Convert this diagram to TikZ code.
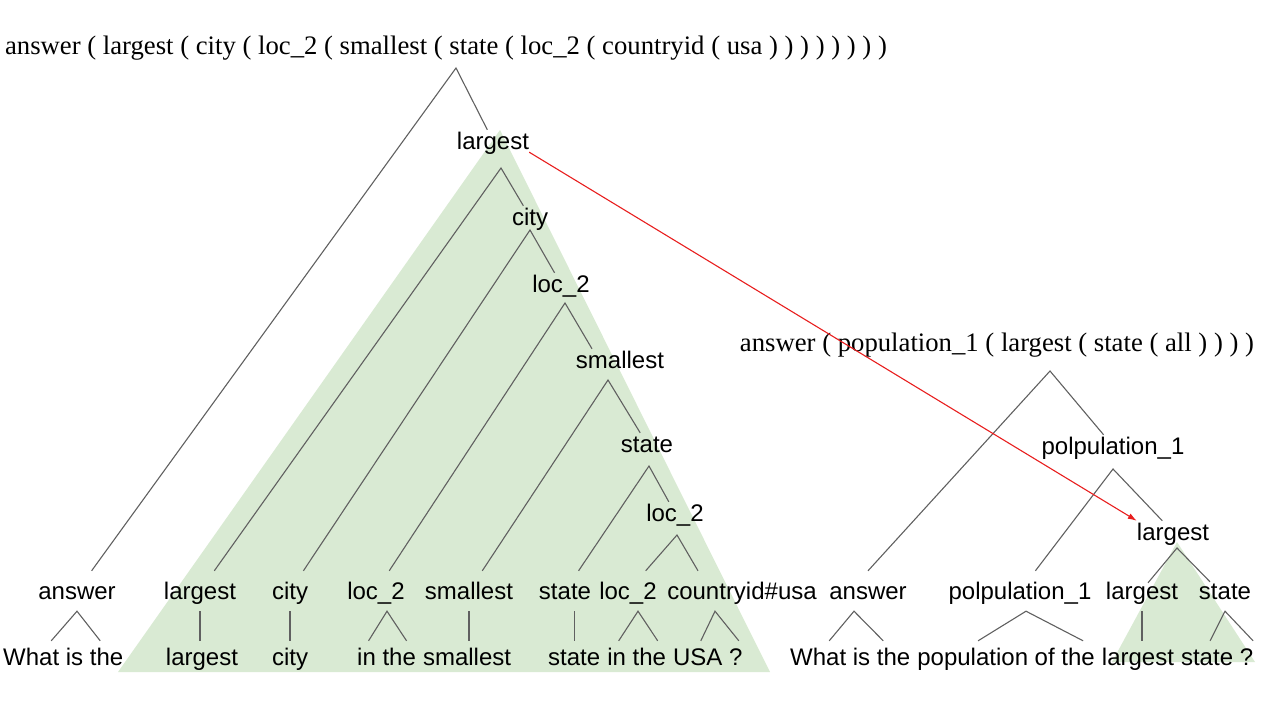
\documentclass[tikz,border=0pt]{standalone}
\usepackage{fontspec}
\setmainfont{Liberation Sans}
\newfontfamily\lformfont{Liberation Serif}
\usetikzlibrary{positioning}
\usetikzlibrary{arrows.meta}
\definecolor{spangreen}{RGB}{217,234,211}
\definecolor{branchgray}{RGB}{96,96,96}
\definecolor{linkred}{RGB}{232,30,30}

\begin{document}
\begin{tikzpicture}[x=1pt, y=-1pt,
    word/.style={font=\fontsize{24}{28}\selectfont, inner sep=0pt, text height=19pt, text depth=3pt},
    leaf/.style={word, inner ysep=9pt},
    token/.style={word, inner ysep=5pt},
    lform/.style={font=\lformfont\fontsize{26.7}{30}\selectfont, inner sep=0pt},
    branch/.style={draw=branchgray, line width=1.1pt},
    link/.style={draw=linkred, line width=1.1pt, -{Latex[length=9pt,width=6pt]}},
    span/.style={fill=spangreen}]
  \useasboundingbox (0,0) rectangle (1266,717);

  % green spans
  \fill[span] (500,130) -- (118,672) -- (770,672) -- cycle;
  \fill[span] (1177,542) -- (1112,662) -- (1255,662) -- cycle;

  % logical forms
  \node[lform] (lf1) at (446,48) {answer ( largest ( city ( loc\_2 ( smallest ( state ( loc\_2 ( countryid ( usa ) ) ) ) ) ) ) )};
  \node[lform] (lf2) at (997,345) {answer ( population\_1 ( largest ( state ( all ) ) ) )};

  % left tree, inner labels
  \node[word] (lg)  at (493,141) {largest};
  \node[word] (ct)  at (530,217) {city};
  \node[word] (lc)  at (561,284) {loc\_2};
  \node[word] (sm)  at (620,360) {smallest};
  \node[word] (st)  at (647,444) {state};
  \node[word] (lcb) at (675,513) {loc\_2};

  % left tree, leaves
  \node[leaf] (ans)  at (77,591)  {answer};
  \node[leaf] (lgl)  at (200,591) {largest};
  \node[leaf] (ctl)  at (290,591) {city};
  \node[leaf] (lcl)  at (376,591) {loc\_2};
  \node[leaf] (sml)  at (469,591) {smallest};
  \node[leaf] (stl)  at (565,591) {state};
  \node[leaf] (lcbl) at (628,591) {loc\_2};
  \node[leaf] (cid)  at (742,591) {countryid\#usa};

  % left sentence
  \node[token, anchor=west] (w1) at (3,657) {What is the};
  \node[token] (w2) at (202,657) {largest};
  \node[token] (w3) at (290,657) {city};
  \node[token, anchor=west] (w4) at (357,657) {in the};
  \node[token, right=6.7pt of w4] (w5) {smallest};
  \node[token, anchor=west] (w6) at (548,657) {state};
  \node[token, right=6.7pt of w6] (w7) {in the};
  \node[token, right=6.7pt of w7] (w8) {USA ?};

  % left tree, branches
  \coordinate (j0) at (456,68);
  \coordinate (j1) at (501,168);
  \coordinate (j2) at (530,230);
  \coordinate (j3) at (565,303);
  \coordinate (j4) at (608,380);
  \coordinate (j5) at (649,466);
  \coordinate (j6) at (677,535);
  \draw[branch] (ans) -- (j0) -- (lg);
  \draw[branch] (lgl) -- (j1) -- (ct);
  \draw[branch] (ctl) -- (j2) -- (lc);
  \draw[branch] (lcl) -- (j3) -- ([xshift=-28pt]sm.north);
  \draw[branch] (sml) -- (j4) -- (st);
  \draw[branch] (stl) -- (j5) -- (lcb);
  \draw[branch] (lcbl) -- (j6) -- ([xshift=-44pt]cid.north);

  % left leaves to words
  \draw[branch] ([xshift=-12pt]w1.north) -- (ans.south) -- ([xshift=37pt]w1.north);
  \draw[branch] (lgl.south) -- (lgl.south |- w2.north);
  \draw[branch] (ctl.south) -- (ctl.south |- w3.north);
  \draw[branch] ([xshift=-18pt]w4.north) -- ([xshift=11pt]lcl.south) -- ([xshift=20pt]w4.north);
  \draw[branch] (sml.south) -- (sml.south |- w5.north);
  \draw[branch] (w6.north |- stl.south) -- (w6.north);
  \draw[branch] ([xshift=-18pt]w7.north) -- ([xshift=10pt]lcbl.south) -- ([xshift=21pt]w7.north);
  \draw[branch] ([xshift=-7pt]w8.north) -- ([xshift=-27pt]cid.south) -- ([xshift=31pt]w8.north);

  % right tree
  \node[word] (pop) at (1113,446) {polpulation\_1};
  \node[word] (lg2) at (1173,532) {largest};
  \node[leaf] (ans2) at (868,591)  {answer};
  \node[leaf] (popl) at (1020,591) {polpulation\_1};
  \node[leaf] (lg3)  at (1142,591) {largest};
  \node[leaf] (st2)  at (1225,591) {state};

  \node[token, anchor=west] (v1) at (790,657) {What is the};
  \node[token, right=6.7pt of v1] (v2) {population of the};
  \node[token, right=6.7pt of v2] (v3) {largest};
  \node[token, right=6.7pt of v3] (v4) {state ?};

  \coordinate (k0) at (1050,371);
  \coordinate (k1) at (1113,469);
  \coordinate (k2) at (1177,548);
  \draw[branch] (ans2.north) -- (k0) -- (pop);
  \draw[branch] (popl) -- (k1) -- (lg2);
  \draw[branch] ([xshift=6pt,yshift=-12pt]lg3.north) -- (k2) -- ([xshift=-15pt,yshift=-11pt]st2.north);

  \draw[branch] ([xshift=-21pt]v1.north) -- ([xshift=-14pt]ans2.south) -- ([xshift=33pt]v1.north);
  \draw[branch] ([xshift=-28pt]v2.north) -- ([xshift=6pt]popl.south) -- ([xshift=77pt]v2.north);
  \draw[branch] (lg3.south) -- (lg3.south |- v3.north);
  \draw[branch] ([xshift=-7pt]v4.north) -- (st2.south) -- ([xshift=36pt]v4.north);

  % transfer
  \draw[link] (lg.south east) -- (lg2.north west);
\end{tikzpicture}
\end{document}
